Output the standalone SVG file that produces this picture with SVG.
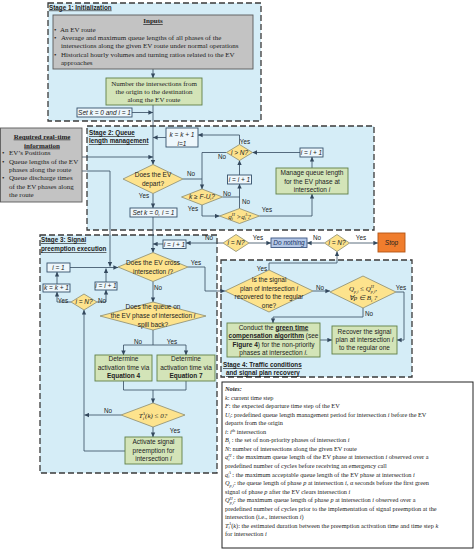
<svg xmlns="http://www.w3.org/2000/svg" width="474" height="552" viewBox="0 0 474 552">
<defs>
<marker id="ah" markerWidth="5" markerHeight="5" refX="4.6" refY="2.5" orient="auto" markerUnits="userSpaceOnUse"><path d="M0,0.3 L4.8,2.5 L0,4.7 z" fill="#34495e"/></marker>
<style>
.stg{fill:#d5edf7;stroke:#3a3a3a;stroke-width:1.3;stroke-dasharray:6 3}
.gray{fill:#c3c3c3;stroke:#595959;stroke-width:0.9}
.grn{fill:#d3e4b8;stroke:#5f7f45;stroke-width:0.9}
.dia{fill:#fde38d;stroke:#8c8c6e;stroke-width:0.8}
.sm{fill:#eef7fc;stroke:#34506b;stroke-width:0.9}
.c{fill:none;stroke:#34495e;stroke-width:0.8;marker-end:url(#ah)}
.cn{fill:none;stroke:#34495e;stroke-width:0.8}
.sans{font-family:"Liberation Sans",Arial,sans-serif;font-size:6.5px;fill:#222}
.serif{font-family:"Liberation Serif","Times New Roman",serif;font-size:7px;fill:#222}
.nt{font-family:"Liberation Serif","Times New Roman",serif;font-size:6.3px;fill:#222}
.lbl{font-family:"Liberation Sans",Arial,sans-serif;font-size:6.3px;fill:#222;text-anchor:middle}
.stl{font-family:"Liberation Sans",Arial,sans-serif;font-weight:bold;font-size:6.3px;text-decoration:underline;fill:#1a1a1a}
.m{text-anchor:middle}
.it{font-style:italic}
.b{font-weight:bold}
.u{text-decoration:underline}
.sb{font-size:4.3px}
</style>
</defs>
<rect width="474" height="552" fill="#fff"/>

<g id="stage1"><rect class="stg" x="48" y="3" width="213" height="118"/><text class="stl" x="49" y="9.5">Stage 1: Initialization</text></g>
<g id="stage2"><rect class="stg" x="87" y="126" width="287" height="104"/><text class="stl" x="89" y="135">Stage 2: Queue</text><text class="stl" x="89" y="143">length management</text></g>
<g id="stage3"><rect class="stg" x="40" y="235" width="177" height="238"/><text class="stl" x="41" y="242">Stage 3: Signal</text><text class="stl" x="41" y="251">preemption execution</text></g>
<g id="stage4"><rect class="stg" x="221" y="260" width="191" height="117"/><text class="stl" x="223" y="367">Stage 4: Traffic conditions</text><text class="stl" x="226" y="375">and signal plan recovery</text></g>

<g id="connectors">
<path class="c" d="M153,69 V78"/>
<path class="c" d="M153,105 V164.5"/>
<path class="c" d="M132,112.5 H153"/>
<path class="c" d="M82,157 H153"/>
<path class="c" d="M166,137.5 H153"/>
<path class="c" d="M183,179 H202 V189"/>
<path class="cn" d="M226.5,152.5 H202 V179"/>
<path class="c" d="M153,193.5 V208"/>
<path class="cn" d="M222.5,197 H239.5"/>
<path class="c" d="M202,205 V216 H219.5"/>
<path class="c" d="M239.5,208.5 V184"/>
<path class="c" d="M239.5,175 V160.5"/>
<path class="c" d="M239.5,144.5 V135 H198"/>
<path class="c" d="M259.5,216 H312 V194"/>
<path class="c" d="M312,168 V157"/>
<path class="c" d="M300,152.5 H252.5"/>
<path class="c" d="M153,217 V252.5"/>
<path class="c" d="M163,244 H153"/>
<path class="c" d="M223,243 H186"/>
<path class="c" d="M249,243 H271"/>
<path class="c" d="M324.5,243 H307"/>
<path class="c" d="M349.5,243 H378"/>
<path class="c" d="M269,270 V263 H337 V251.5"/>
<path class="c" d="M188,267 H205 V291 H225"/>
<path class="c" d="M70,267.5 H118"/>
<path class="c" d="M82,171 H110 V266.5"/>
<path class="c" d="M106,282 V268.5"/>
<path class="c" d="M97,302 H106 V290"/>
<path class="c" d="M71,302 H57 V292"/>
<path class="c" d="M57,284 V272"/>
<path class="c" d="M153,281.5 V302"/>
<path class="cn" d="M153,330 V345 M123.5,345 H186 M123.5,381 V390 H186 V381"/>
<path class="c" d="M123.5,345 V355"/>
<path class="c" d="M186,345 V355"/>
<path class="c" d="M153,390 V403"/>
<path class="c" d="M121,415 H84.5"/>
<path class="c" d="M125,451 H84 V310"/>
<path class="c" d="M153,427 V437"/>
<path class="c" d="M313,291 H330"/>
<path class="c" d="M396,292 H404 V340 H397"/>
<path class="c" d="M363,308 V317 H273 V323"/>
<path class="c" d="M320,340 H332"/>
</g>

<g id="inputs"><rect class="gray" x="53" y="15" width="200" height="54"/>
<text class="serif m b u" x="153" y="23">Inputs</text>
<text class="serif" x="54" y="31.5">•</text><text class="serif" x="60" y="31.5">An EV route</text>
<text class="serif" x="54" y="40">•</text><text class="serif" x="61" y="40">Average and maximum queue lengths of all phases of the</text>
<text class="serif" x="61" y="48.3">intersections along the given EV route under normal operations</text>
<text class="serif" x="54" y="56.6">•</text><text class="serif" x="61" y="56.6">Historical hourly volumes and turning ratios related to the EV</text>
<text class="serif" x="61" y="65.3">approaches</text></g>

<g id="number"><rect class="grn" x="106" y="78" width="96" height="27"/>
<text class="serif m" x="154" y="85.5">Number the intersections  from</text>
<text class="serif m" x="154" y="93.5">the origin to the destination</text>
<text class="serif m" x="154" y="101.5">along the EV route</text></g>

<g id="setk0a"><rect class="sm" x="77" y="108" width="55" height="9"/><text class="sans m it" x="104.5" y="115">Set k = 0 and i = 1</text></g>

<g id="realtime"><rect class="gray" x="0.5" y="128" width="81.5" height="74"/>
<text class="serif m b u" x="42" y="138.5">Required real-time</text>
<text class="serif m b u" x="42" y="147.5">information</text>
<text class="serif" x="2" y="155.3">•</text><text class="serif" x="9" y="155.3">EV’s Positions</text>
<text class="serif" x="2" y="164.3">•</text><text class="serif" x="9" y="164.3">Queue lengths of the EV</text>
<text class="serif" x="9" y="172.3">phases along the route</text>
<text class="serif" x="2" y="180.3">•</text><text class="serif" x="9" y="180.3">Queue discharge times</text>
<text class="serif" x="9" y="189.3">of the EV phases along</text>
<text class="serif" x="9" y="197.3">the route</text></g>

<g id="kinc2"><rect class="sm" x="166" y="128" width="32" height="19"/><text class="sans m it" x="182" y="136.5">k = k + 1</text><text class="sans m it" x="182" y="145.5">i=1</text></g>

<g id="depart"><polygon class="dia" points="153,164.5 183,179 153,193.5 123,179"/><text class="sans m" x="153" y="177">Does the EV</text><text class="sans m" x="153" y="185.5">depart?</text></g>

<g id="kcheck"><polygon class="dia" points="202,189 222.5,197 202,205 181.5,197"/><text class="sans m it" x="202" y="199.3">k ≥ F-U<tspan class="sb" dy="1">i</tspan><tspan dy="-1">?</tspan></text></g>

<g id="qcheck"><polygon class="dia" points="239.5,208.5 259.5,216 239.5,223.5 219.5,216"/><text class="serif m it" x="239.5" y="218.5" font-size="6.5">q<tspan class="sb" dy="1.5">i</tspan><tspan class="sb" dx="-1.2" dy="-4.2">H</tspan><tspan dy="2.7"> &gt;q</tspan><tspan class="sb" dy="1.5">i</tspan><tspan class="sb" dx="-1.2" dy="-4.2">A</tspan><tspan dy="2.7">?</tspan></text></g>

<g id="igtn"><polygon class="dia" points="239.5,144.5 252.5,152.5 239.5,160.5 226.5,152.5"/><text class="sans m it" x="239.5" y="154.8" font-size="6">i &gt; N?</text></g>

<g id="iinc2a"><rect class="sm" x="227.5" y="175" width="24" height="9"/><text class="sans m it" x="239.5" y="181.8" font-size="6">i = i + 1</text></g>

<g id="manage"><rect class="grn" x="276" y="168" width="72" height="26"/><text class="sans m" x="312" y="175.3">Manage queue length</text><text class="sans m" x="312" y="184">for the EV phase at</text><text class="sans m" x="312" y="192.3">intersection <tspan class="it">i</tspan></text></g>

<g id="iinc2b"><rect class="sm" x="300" y="148" width="23" height="9"/><text class="sans m it" x="311.5" y="154.8" font-size="6">i = i + 1</text></g>

<g id="setk0b"><rect class="sm" x="130" y="208" width="47" height="9"/><text class="sans m it" x="153.5" y="215">Set k = 0, i = 1</text></g>

<g id="iinc3a"><rect class="sm" x="163" y="240" width="23" height="8.5"/><text class="sans m it" x="174.5" y="246.5" font-size="6">i = i + 1</text></g>

<g id="ieqn_mid"><polygon class="dia" points="236,234.5 249,243 236,251.5 223,243"/><text class="sans m it" x="236" y="245.3" font-size="6">i = N?</text></g>

<g id="donothing"><rect x="271" y="238" width="36" height="9.5" fill="#b4c7e7" stroke="#3b5580" stroke-width="0.9"/><text class="sans m it" x="289" y="245" fill="#203864" style="fill:#203864">Do nothing</text></g>

<g id="ieqn_right"><polygon class="dia" points="337,234.5 349.5,243 337,251.5 324.5,243"/><text class="sans m it" x="337" y="245.3" font-size="6">i = N?</text></g>

<g id="stop"><rect x="378" y="233" width="27" height="19" fill="#f07d2d" stroke="#b35514" stroke-width="0.9"/><text class="sans m it" x="391.5" y="245">Stop</text></g>

<g id="cross"><polygon class="dia" points="153,252.5 188,267 153,281.5 118,267"/><text class="sans m" x="153" y="265.3">Does the EV cross</text><text class="sans m" x="153" y="274.3">intersection <tspan class="it">i</tspan>?</text></g>

<g id="ione"><rect class="sm" x="47" y="263" width="23" height="9"/><text class="sans m it" x="58.5" y="269.8">i = 1</text></g>
<g id="kinc3"><rect class="sm" x="43" y="284" width="27" height="8"/><text class="sans m it" x="56.5" y="290.3">k = k + 1</text></g>
<g id="iinc3b"><rect class="sm" x="95" y="282" width="22" height="8"/><text class="sans m it" x="106" y="288.3" font-size="6">i = i + 1</text></g>
<g id="ieqn_left"><polygon class="dia" points="84,294 97,302 84,310 71,302"/><text class="sans m it" x="84" y="304.3" font-size="6">i = N?</text></g>

<g id="spill"><polygon class="dia" points="153,302 206,316 153,330 100,316"/><text class="sans m" x="153" y="309">Does the queue on</text><text class="sans m" x="153" y="318.3">the EV phase of intersection <tspan class="it">i</tspan></text><text class="sans m" x="153" y="326.5">spill back?</text></g>

<g id="eq4"><rect class="grn" x="95" y="355" width="57" height="26"/><text class="sans m" x="123.5" y="361.3">Determine</text><text class="sans m" x="123.5" y="369.5">activation time via</text><text class="sans m b" x="123.5" y="378.3">Equation 4</text></g>
<g id="eq7"><rect class="grn" x="157" y="355" width="58" height="26"/><text class="sans m" x="186" y="361.3">Determine</text><text class="sans m" x="186" y="369.5">activation time via</text><text class="sans m b" x="186" y="378.3">Equation 7</text></g>

<g id="tcheck"><polygon class="dia" points="153,403 185,415 153,427 121,415"/><text class="serif m it" x="153" y="418" font-size="8.5">T<tspan font-size="5" dy="2">i</tspan><tspan font-size="5" dx="-2" dy="-5.5">A</tspan><tspan dy="3.5">(k) ≤ 0?</tspan></text></g>

<g id="activate"><rect class="grn" x="125" y="437" width="57" height="27"/><text class="sans m" x="153.5" y="444.3">Activate signal</text><text class="sans m" x="153.5" y="452.5">preemption for</text><text class="sans m" x="153.5" y="461">intersection <tspan class="it">i</tspan></text></g>

<g id="recovered"><polygon class="dia" points="269,270 313,291 269,312 225,291"/><text class="sans m" x="269" y="282.3">Is the signal</text><text class="sans m" x="269" y="291.3">plan of intersection <tspan class="it">i</tspan></text><text class="sans m" x="269" y="299.3">recovered to the regular</text><text class="sans m" x="269" y="308">one?</text></g>

<g id="qlimit"><polygon class="dia" points="363,276 396,292 363,308 330,292"/>
<text class="serif m it" x="363" y="291" font-size="7">Q<tspan class="sb" dy="1.5">p,i</tspan><tspan dy="-1.5"> ≤ Q</tspan><tspan class="sb" dy="-3">H</tspan><tspan class="sb" dx="-3.1" dy="4.5">p,i</tspan><tspan dy="-1.5">,</tspan></text>
<text class="serif m it" x="363" y="300" font-size="7">∀p ∈ B<tspan class="sb" dy="1.5">i</tspan><tspan dy="-1.5"> ?</tspan></text></g>

<g id="conduct"><rect class="grn" x="227" y="323" width="93" height="34"/>
<text class="sans m" x="273.5" y="329.5" font-size="6.1">Conduct the <tspan class="b u">green time</tspan></text>
<text class="sans m" x="273.5" y="338.3" font-size="6.1"><tspan class="b u">compensation algorithm</tspan> (see</text>
<text class="sans m" x="273.5" y="346.5" font-size="6.1"><tspan class="b">Figure 4</tspan>) for the non-priority</text>
<text class="sans m" x="273.5" y="355" font-size="6.1">phases at intersection <tspan class="it">i</tspan>.</text></g>

<g id="recover"><rect class="grn" x="332" y="326" width="65" height="28"/><text class="sans m" x="364.5" y="334.3">Recover the signal</text><text class="sans m" x="364.5" y="342.3">plan at intersection <tspan class="it">i</tspan></text><text class="sans m" x="364.5" y="350.3">to the regular one</text></g>

<g id="labels">
<text class="lbl" x="191" y="176">No</text>
<text class="lbl" x="144" y="198">Yes</text>
<text class="lbl" x="245" y="144">Yes</text>
<text class="lbl" x="222" y="158.5">No</text>
<text class="lbl" x="227" y="196">No</text>
<text class="lbl" x="193" y="211">Yes</text>
<text class="lbl" x="246" y="203.5">No</text>
<text class="lbl" x="267" y="212">Yes</text>
<text class="lbl" x="209" y="240">No</text>
<text class="lbl" x="258" y="240">Yes</text>
<text class="lbl" x="317" y="240">No</text>
<text class="lbl" x="361" y="239.5">Yes</text>
<text class="lbl" x="196" y="265">Yes</text>
<text class="lbl" x="158" y="290">No</text>
<text class="lbl" x="63" y="303">Yes</text>
<text class="lbl" x="102" y="303">No</text>
<text class="lbl" x="138" y="344">No</text>
<text class="lbl" x="172" y="344">Yes</text>
<text class="lbl" x="108" y="413">No</text>
<text class="lbl" x="175" y="433" font-size="4.5">Yes</text>
<text class="lbl" x="262" y="270.5">Yes</text>
<text class="lbl" x="320" y="290">No</text>
<text class="lbl" x="401" y="290">Yes</text>
<text class="lbl" x="369" y="316">No</text>
</g>

<g id="notes"><rect x="222" y="382" width="251" height="166" fill="#fff" stroke="#222" stroke-width="1"/>
<text class="nt b it" x="225" y="391">Notes:</text>
<text class="nt" x="225" y="399.6"><tspan class="it">k</tspan>: current time step</text>
<text class="nt" x="225" y="408.1"><tspan class="it">F</tspan>: the expected departure time step of the EV</text>
<text class="nt" x="225" y="416.7"><tspan class="it">U</tspan><tspan class="sb it" dy="1.3">i</tspan><tspan dy="-1.3">: predefined queue length management period for intersection </tspan><tspan class="it">i</tspan> before the EV</text>
<text class="nt" x="225" y="425.2">departs from the origin</text>
<text class="nt" x="225" y="433.8"><tspan class="it">i</tspan>: <tspan class="it">i</tspan><tspan class="sb" dy="-2.3">th</tspan><tspan dy="2.3"> intersection</tspan></text>
<text class="nt" x="225" y="442.3"><tspan class="it">B</tspan><tspan class="sb it" dy="1.3">i</tspan><tspan dy="-1.3"> : the set of non-priority phases of intersection </tspan><tspan class="it">i</tspan></text>
<text class="nt" x="225" y="450.9"><tspan class="it">N</tspan>: number of intersections along the given EV route</text>
<text class="nt" x="225" y="459.4"><tspan class="it">q</tspan><tspan class="sb it" dy="1.5">i</tspan><tspan class="sb it" dx="-1.2" dy="-4.2">H</tspan><tspan dy="2.7"> : the maximum queue length of the EV phase at intersection </tspan><tspan class="it">i</tspan> observed over a</text>
<text class="nt" x="225" y="468">predefined number of cycles before receiving an emergency call</text>
<text class="nt" x="225" y="476.5"><tspan class="it">q</tspan><tspan class="sb it" dy="1.5">i</tspan><tspan class="sb it" dx="-1.2" dy="-4.2">A</tspan><tspan dy="2.7"> : the maximum acceptable queue length of the EV phase at intersection </tspan><tspan class="it">i</tspan></text>
<text class="nt" x="225" y="485.1"><tspan class="it">Q</tspan><tspan class="sb it" dy="1.5">p,i</tspan><tspan dy="-1.5">: the queue length of phase </tspan><tspan class="it">p</tspan> at intersection <tspan class="it">i</tspan>,  α seconds before the first green</text>
<text class="nt" x="225" y="493.6">signal of phase <tspan class="it">p</tspan> after the EV clears intersection <tspan class="it">i</tspan></text>
<text class="nt" x="225" y="502.2"><tspan class="it">Q</tspan><tspan class="sb it" dy="-2.5">H</tspan><tspan class="sb it" dx="-3" dy="4">p,i</tspan><tspan dy="-1.5">: the maximum queue length of phase </tspan><tspan class="it">p</tspan> at intersection <tspan class="it">i</tspan> observed over a</text>
<text class="nt" x="225" y="510.7">predefined number of cycles prior to the implementation of signal preemption at the</text>
<text class="nt" x="225" y="519.3">intersection (i.e., intersection <tspan class="it">i</tspan>)</text>
<text class="nt" x="225" y="527.8"><tspan class="it">T</tspan><tspan class="sb it" dy="1.5">i</tspan><tspan class="sb it" dx="-1.2" dy="-4.2">A</tspan><tspan dy="2.7">(</tspan><tspan class="it">k</tspan>): the estimated duration between the preemption activation time and time step <tspan class="it">k</tspan></text>
<text class="nt" x="225" y="536.4">for intersection <tspan class="it">i</tspan></text>
</g>
</svg>
